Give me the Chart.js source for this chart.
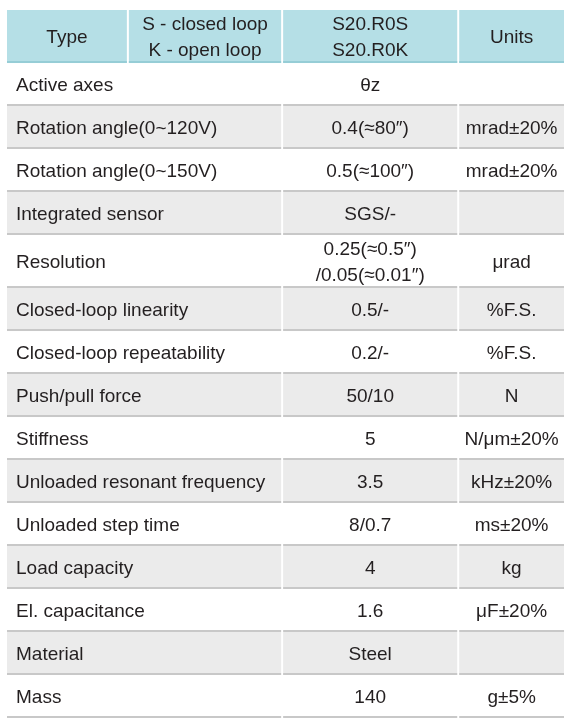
<!DOCTYPE html>
<html>
<head>
<meta charset="utf-8">
<script src="https://cdn.jsdelivr.net/npm/chart.js@4/dist/chart.umd.min.js"></script>
<style>
  html, body { margin: 0; padding: 0; background: #fff; }
  #wrap { width: 573px; height: 724px; position: relative; }
</style>
</head>
<body>
<div id="wrap"><canvas id="tablaSpecs"></canvas></div>
<script>
// Datos de la tabla
const encabezado = ['Type', 'S - closed loop\nK - open loop', 'S20.R0S\nS20.R0K', 'Units'];
const parametros = [
    'Active axes', 'Rotation angle(0~120V)', 'Rotation angle(0~150V)', 'Integrated sensor',
    'Resolution', 'Closed-loop linearity', 'Closed-loop repeatability', 'Push/pull force',
    'Stiffness', 'Unloaded resonant frequency', 'Unloaded step time', 'Load capacity',
    'El. capacitance', 'Material', 'Mass'
];
const valores = [
    'θz', '0.4(≈80″)', '0.5(≈100″)', 'SGS/-',
    '0.25(≈0.5″)\n/0.05(≈0.01″)', '0.5/-', '0.2/-', '50/10',
    '5', '3.5', '8/0.7', '4',
    '1.6', 'Steel', '140'
];
const unidades = [
    '', 'mrad±20%', 'mrad±20%', '',
    'μrad', '%F.S.', '%F.S.', 'N',
    'N/μm±20%', 'kHz±20%', 'ms±20%', 'kg',
    'μF±20%', '', 'g±5%'
];

// Bordes de columnas (en % del ancho) y alto de fila según líneas de texto
const bordesCol = [0, 21.8, 49.4, 80.9, 100];
const altoLinea = 1, altoExtra = 0.233;
const lineas = t => t.split('\n').length;
const altos = [Math.max(...encabezado.map(lineas))]
    .concat(valores.map((v, i) => Math.max(lineas(v), lineas(parametros[i]), lineas(unidades[i]))))
    .map(n => altoLinea + altoExtra * (n - 1));
const bordesFila = altos.reduce((acc, h) => { acc.push(acc[acc.length - 1] + h); return acc; }, [0]);

const fuente = '19px "Liberation Sans", Arial, sans-serif';
const colorTexto = '#231f20';

function textoCelda(ctx, texto, x, y, align) {
    const partes = texto.split('\n');
    const interlinea = 26;
    ctx.textAlign = align;
    partes.forEach((p, k) => {
        ctx.fillText(p, x, y + (k - (partes.length - 1) / 2) * interlinea);
    });
}

const pluginTabla = {
    id: 'pluginTabla',
    afterDraw(chart) {
        const ctx = chart.ctx;
        const sx = chart.scales.x, sy = chart.scales.y;
        const px = v => sx.getPixelForValue(v);
        const py = v => sy.getPixelForValue(v);
        ctx.save();
        ctx.font = fuente;
        ctx.textBaseline = 'middle';

        // celda: fondo + línea inferior, con hueco blanco entre columnas
        function celda(c0, c1, f, fondo, linea) {
            const x0 = px(bordesCol[c0]) + 1, x1 = px(bordesCol[c1]) - 1;
            const y0 = py(bordesFila[f]), y1 = py(bordesFila[f + 1]);
            if (fondo) { ctx.fillStyle = fondo; ctx.fillRect(x0, y0, x1 - x0, y1 - y0); }
            ctx.fillStyle = linea;
            ctx.fillRect(x0, y1 - 2, x1 - x0, 2);
        }

        // encabezado
        for (let c = 0; c < 4; c++) {
            celda(c, c + 1, 0, '#b5dfe6', '#96cdd6');
            ctx.fillStyle = colorTexto;
            textoCelda(ctx, encabezado[c], (px(bordesCol[c]) + px(bordesCol[c + 1])) / 2,
                (py(bordesFila[0]) + py(bordesFila[1])) / 2 + 1, 'center');
        }

        // filas
        parametros.forEach((p, i) => {
            const f = i + 1;
            const fondo = i % 2 === 1 ? '#ebebeb' : null;
            const yc = (py(bordesFila[f]) + py(bordesFila[f + 1])) / 2 + 1;
            celda(0, 2, f, fondo, '#c8c8c8');
            celda(2, 3, f, fondo, '#c8c8c8');
            celda(3, 4, f, fondo, '#c8c8c8');
            ctx.fillStyle = colorTexto;
            textoCelda(ctx, p, px(bordesCol[0]) + 10, yc, 'left');
            textoCelda(ctx, valores[i], (px(bordesCol[2]) + px(bordesCol[3])) / 2, yc, 'center');
            if (unidades[i]) {
                textoCelda(ctx, unidades[i], (px(bordesCol[3]) + px(bordesCol[4])) / 2, yc, 'center');
            }
        });
        ctx.restore();
    }
};

const ctxTabla = document.getElementById('tablaSpecs').getContext('2d');
new Chart(ctxTabla, {
    type: 'scatter',
    data: { datasets: [] },
    options: {
        responsive: true,
        maintainAspectRatio: false,
        animation: false,
        layout: { padding: { left: 6, right: 8, top: 10, bottom: 6 } },
        scales: {
            x: { type: 'linear', min: 0, max: 100, display: false },
            y: { type: 'linear', min: 0, max: bordesFila[bordesFila.length - 1], reverse: true, display: false }
        },
        plugins: {
            legend: { display: false },
            tooltip: { enabled: false }
        }
    },
    plugins: [pluginTabla]
});
</script>
</body>
</html>
